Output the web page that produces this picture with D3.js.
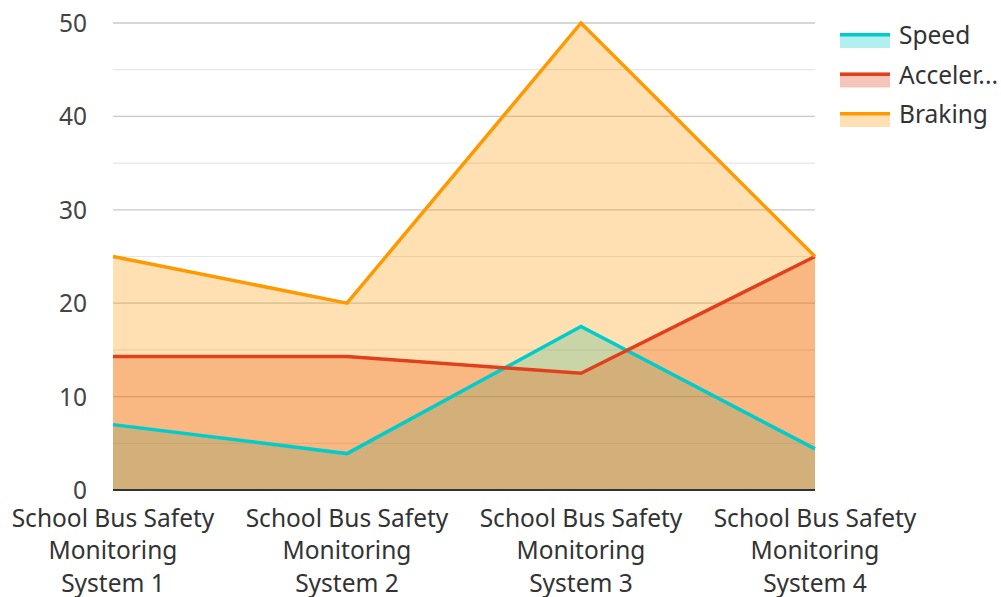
<!DOCTYPE html>
<html><head><meta charset="utf-8">
<script src="https://cdn.jsdelivr.net/npm/d3@7"></script>
<style>html,body{margin:0;padding:0;background:#fff;}svg{display:block;font-family:"Noto Sans","Open Sans",sans-serif;}</style>
</head><body>
<svg id="chart" width="1001" height="597"></svg>
<script>
const categories = ["School Bus Safety Monitoring System 1","School Bus Safety Monitoring System 2","School Bus Safety Monitoring System 3","School Bus Safety Monitoring System 4"];
const categoryLines = [["School Bus Safety","Monitoring","System 1"],["School Bus Safety","Monitoring","System 2"],["School Bus Safety","Monitoring","System 3"],["School Bus Safety","Monitoring","System 4"]];
const seriesNames = ["Speed","Acceleration","Braking"];
const legendLabels = ["Speed","Acceler...","Braking"];
const speed = [7, 3.9, 17.5, 4.4];
const acceleration = [14.3, 14.3, 12.5, 25];
const braking = [25, 20, 50, 25];
const yTicks = [0,10,20,30,40,50];
const yMinor = [5,15,25,35,45];
const colors = ["#00CCCC","#E0401C","#FF9900"];

(function(){
const svg = d3.select("#chart");
const pLeft = 113, pRight = 815, pTop = 23, pBottom = 490;
const x = d3.scalePoint().domain(categories).range([pLeft, pRight]);
const y = d3.scaleLinear().domain([0,50]).range([pBottom, pTop]);

// grid
svg.append("g").selectAll("line").data(yMinor).join("line")
  .attr("x1", pLeft).attr("x2", pRight).attr("y1", d=>y(d)).attr("y2", d=>y(d))
  .attr("stroke", "#e6e6e6").attr("stroke-width", 1.2);
svg.append("g").selectAll("line").data(yTicks.filter(d=>d>0)).join("line")
  .attr("x1", pLeft).attr("x2", pRight).attr("y1", d=>y(d)).attr("y2", d=>y(d))
  .attr("stroke", "#c8c8c8").attr("stroke-width", 1.3);

const allSeries = [speed, acceleration, braking];
const area = d3.area().x((d,i)=>x(categories[i])).y0(y(0)).y1(d=>y(d));
const line = d3.line().x((d,i)=>x(categories[i])).y(d=>y(d));

allSeries.forEach((s,k)=>{
  svg.append("path").datum(s).attr("d", area).attr("fill", colors[k]).attr("fill-opacity", 0.3);
});
allSeries.forEach((s,k)=>{
  svg.append("path").datum(s).attr("d", line).attr("fill","none").attr("stroke", colors[k])
    .attr("stroke-width", 3.5).attr("stroke-linejoin","miter");
});

// x axis line
svg.append("line").attr("x1", pLeft).attr("x2", pRight).attr("y1", pBottom).attr("y2", pBottom)
  .attr("stroke", "#333").attr("stroke-width", 2);

// y labels
svg.append("g").selectAll("text").data(yTicks).join("text")
  .attr("x", 87).attr("y", d=>y(d)+9).attr("text-anchor","end")
  .attr("font-size", 24.5).attr("fill", "#444").text(d=>d);

// x labels
categoryLines.forEach((lines,i)=>{
  const t = svg.append("text").attr("text-anchor","middle").attr("font-size",24.5).attr("fill","#333");
  lines.forEach((l,j)=>{
    t.append("tspan").attr("x", x(categories[i])).attr("y", 527 + j*32.3).text(l);
  });
});

// legend
const lg = svg.append("g");
legendLabels.forEach((name,k)=>{
  const yy = 33 + k*39.5;
  lg.append("rect").attr("x", 840).attr("y", yy).attr("width", 50).attr("height", 15)
    .attr("fill", colors[k]).attr("fill-opacity", 0.3);
  lg.append("rect").attr("x", 840).attr("y", yy).attr("width", 50).attr("height", 3.5)
    .attr("fill", colors[k]);
  lg.append("text").attr("x", 899).attr("y", yy + 11).attr("font-size", 24.5).attr("fill","#333").text(name);
});
})();
</script>
</body></html>
